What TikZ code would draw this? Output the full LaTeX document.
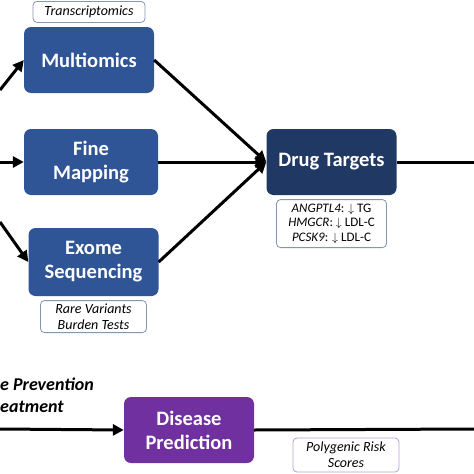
\documentclass[tikz,border=0pt]{standalone}
\usepackage{fontspec}
\setmainfont{Carlito}
\usetikzlibrary{arrows.meta,positioning}

\definecolor{omicsblue}{HTML}{2F5597}
\definecolor{targetnavy}{HTML}{1F3864}
\definecolor{predpurple}{HTML}{7030A0}
\definecolor{noteblue}{HTML}{8497B0}
\definecolor{notepurple}{HTML}{B4A0D2}

\begin{document}
\begin{tikzpicture}[x=1pt, y=-1pt,
  node distance=4pt,
  box/.style={fill=omicsblue, rounded corners=7pt, minimum width=130pt, minimum height=66pt, text=white, font=\bfseries\fontsize{20.5}{24}\selectfont, align=center},
  note/.style={draw=noteblue, thick, rounded corners=4pt, fill=white, font=\itshape\fontsize{14}{16}\selectfont, align=center, inner sep=1pt},
  arr/.style={-{Triangle[length=11pt,width=11pt]}, line width=3pt},
  ln/.style={line width=3pt}
]
\useasboundingbox (0,0) rectangle (474,474);

% upper branch
\node[box] (multi) at (89,60) {Multiomics};
\node[box, minimum width=134pt] (fine) at (91,162) {Fine\\Mapping};
\node[box, minimum height=68pt] (exome) at (93.5,262) {Exome\\Sequencing};
\node[box, fill=targetnavy] (drug) at (331.5,162) {Drug Targets};

\node[note, above=of multi, minimum width=112pt, minimum height=21pt] (trans) {Transcriptomics};
\node[note, below=of exome, minimum width=106pt, minimum height=32pt] (rare) {Rare Variants\\Burden Tests};
\node[note, below=of drug, minimum width=110pt, minimum height=48pt, font=\fontsize{13}{14.5}\selectfont] (genes)
  {\textit{ANGPTL4}: $\downarrow$ TG\\\textit{HMGCR}: $\downarrow$ LDL-C\\\textit{PCSK9}: $\downarrow$ LDL-C};

\coordinate (inA) at (0,90);
\coordinate (inB) at (0,162);
\coordinate (inC) at (0,222);
\coordinate (outD) at (474,162);

\draw[arr] (inA) -- (multi.west);
\draw[arr] (inB) -- (fine.west);
\draw[arr] (inC) -- (exome.west);
\draw[arr] (multi.east) -- (drug.west);
\draw[arr] (fine.east) -- (drug.west);
\draw[arr] (exome.east) -- (drug.west);
\draw[ln] (drug.east) -- (outD);

% lower branch
\node[box, fill=predpurple] (pred) at (189,430) {Disease\\Prediction};
\node[note, draw=notepurple, minimum width=106pt, minimum height=34pt] (prs) at (346,455) {Polygenic Risk\\Scores};
\node[anchor=north west, inner sep=0pt, align=left, font=\bfseries\itshape\fontsize{18}{22}\selectfont] (prev) at (0,378) {e Prevention\\eatment};

\coordinate (inE) at (0,429);
\coordinate (outE) at (474,429);
\draw[arr] (inE) -- (pred.west);
\draw[ln] (pred.east) -- (outE);
\end{tikzpicture}
\end{document}
